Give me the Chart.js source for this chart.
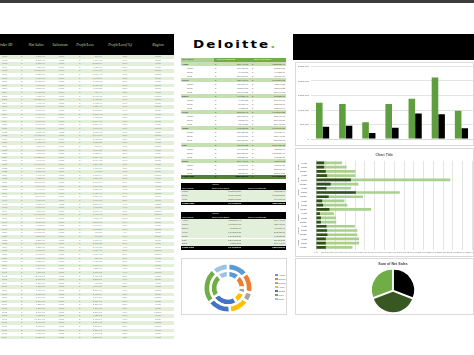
<!DOCTYPE html>
<html>
<head>
<meta charset="utf-8">
<script src="https://cdn.jsdelivr.net/npm/chart.js@4.4.1/dist/chart.umd.min.js"></script>
<style>
  body { margin: 0; width: 474px; height: 355px; background: #fff; position: relative; overflow: hidden; font-family: "Liberation Sans", Arial, sans-serif; }
  .box { position: absolute; box-sizing: border-box; }
  .row { position: absolute; overflow: hidden; white-space: nowrap; }
  .row span { position: absolute; top: 0; }
  canvas { display: block; }
  #donutLegend { position: absolute; left: 275px; top: 274px; font-size: 2.5px; line-height: 4px; color: #595959; }
  #donutLegend i { display: inline-block; width: 2.5px; height: 2px; margin-right: 1px; }
</style>
</head>
<body>
<div class="box" style="left:0;top:0;width:474px;height:3px;background:#3c3c3c"></div>
<div class="box" style="left:0;top:34px;width:174px;height:21px;background:#000"></div>
<div class="box" style="left:293px;top:34px;width:181px;height:26px;background:#000"></div>
<div class="box" id="logo" style="left:193px;top:39px;font:bold 10px 'DejaVu Sans';letter-spacing:1.5px;transform:scaleX(1.35);transform-origin:left top;color:#000">Deloitte<span style="color:#86bc25">.</span></div>

<div class="box" style="left:295px;top:62px;width:179px;height:84px;border:1px solid #d9d9d9"><canvas id="barChart" width="177" height="82"></canvas></div>
<div class="box" style="left:295px;top:148px;width:179px;height:109px;border:1px solid #d9d9d9"><canvas id="hbarChart" width="177" height="107"></canvas></div>
<div class="box" style="left:295px;top:258px;width:179px;height:57px;border:1px solid #d9d9d9"><canvas id="pieChart" width="177" height="55"></canvas></div>
<div class="box" style="left:181px;top:258px;width:106px;height:57px;border:1px solid #d9d9d9"><canvas id="donutChart" width="104" height="55"></canvas></div>
<div id="donutLegend"></div>

<script>
// salesmen and regions
const salesmen = ['Adam', 'Calvin', 'Daniel', 'Henry', 'Justin', 'Paul', 'Sindy'];
const regions = ['Middle', 'North', 'West'];

// column chart: sum of net sales / profit per salesman
const totalNetSales = [1250000, 1210000, 580000, 1210000, 1390000, 2120000, 970000];
const totalProfit = [420000, 460000, 210000, 390000, 880000, 850000, 370000];

// pivot by salesman and region (Adam..Sindy)
const netMiddle = [373210.50, 423540.25, 206870.10, 562980.75, 480120.40, 433650.90, 402870.30];
const netNorth = [440230.80, 422760.35, 203110.60, 319870.20, 856940.15, 1372850.45, 312950.70];
const netWest = [439780.10, 396990.55, 183240.90, 290450.30, 356810.65, 402730.20, 267340.85];
const profitMiddle = [100420.15, 116780.40, 49860.25, 136950.70, 129830.55, 149920.35, 99870.60];
const profitNorth = [99870.30, 113240.85, 50120.40, 73210.90, 406870.20, 357120.75, 83450.10];
const profitWest = [100150.60, 106890.25, 40230.75, 63470.35, 106920.80, 113350.45, 83120.90];

// pie: sum of net sales by region (Middle, North, West)
const pieNetSales = [2700000, 3350000, 2680000];

// orders table
const orderSales = [7200, 5770, 3830, 4350, 21270, 5850, 4860, 11370, 4900, 3270,
  6420, 4850, 21250, 4490, 3890, 3010, 6970, 5130, 3470, 5690,
  4880, 3840, 10730, 11020, 4630, 4290, 6060, 6360, 19220, 4640,
  10800, 7330, 5880, 4410, 4330, 13960, 3790, 4940, 10440, 3740,
  4890, 4770, 5100, 7290, 14950, 3900, 2970, 4920, 4370, 16880,
  5270, 5210, 11790, 6250, 4780, 3170, 4180, 5320, 6840, 9210,
  4050, 12400, 3660, 5830, 7120, 4470, 3950, 8640, 5560, 4230,
  6710, 3890, 4980, 10290, 5470, 3620, 4810, 6930, 5150];
const orderProfit = [899.34, 1179.43, 2130.00, 1137.16, 1609.70, 1069.45, 1862.11, 1963.02, 2425.83, 1072.35,
  986.44, 2495.75, 3488.00, 1772.97, 1330.46, 2093.31, 3100.93, 1672.35, 2196.90, 3507.96,
  1896.57, 3003.62, 2647.21, 3437.21, 3125.55, 788.00, 1807.35, 1635.99, 2179.97, 2499.82,
  1279.28, 1070.08, 941.50, 1781.84, 1201.72, 2178.71, 1377.95, 2180.80, 1457.40, 1317.06,
  1080.11, 2347.54, 4870.55, 2770.07, 1495.93, 4165.93, 2500.03, 1976.74, 1672.36, 995.30,
  877.25, 1786.40, 2878.33, 2490.35, 1656.48, 1789.21, 827.19, 1457.51, 1693.46, 4235.07,
  1800.02, 3457.85, 2205.56, 943.81, 1766.10, 3001.84, 2458.74, 1140.07, 2177.18, 2330.27,
  1295.35, 2566.36, 4021.83, 1963.19, 2854.41, 1108.56, 3250.64, 1742.92, 2203.10];
const orderRegion = ['North', 'North', 'West', 'West', 'Middle', 'Middle', 'North', 'West', 'North', 'North',
  'West', 'Middle', 'Middle', 'North', 'Middle', 'North', 'West', 'North', 'North', 'West',
  'Middle', 'North', 'Middle', 'North', 'West', 'Middle', 'West', 'West', 'Middle', 'North',
  'West', 'North', 'North', 'Middle', 'West', 'Middle', 'West', 'West', 'Middle', 'North',
  'North', 'Middle', 'West', 'Middle', 'Middle', 'North', 'North', 'West', 'Middle', 'West',
  'Middle', 'North', 'West', 'North', 'Middle', 'Middle', 'North', 'West', 'North', 'West',
  'Middle', 'Middle', 'North', 'West', 'West', 'Middle', 'North', 'Middle', 'North', 'West',
  'North', 'Middle', 'West', 'North', 'Middle', 'Middle', 'West', 'North', 'West'];
const firstOrderId = 1101;

const donutColors = ['#5b9bd5', '#ed7d31', '#a5a5a5', '#ffc000', '#4472c4', '#70ad47', '#9dc3e6'];

const money = v => v.toLocaleString('en-US', { minimumFractionDigits: 2, maximumFractionDigits: 2 });
const sum = a => a.reduce((s, v) => s + v, 0);

function mkRow(left, top, width, height, bg, fontSize, color) {
  const r = document.createElement('div');
  r.className = 'row';
  Object.assign(r.style, {
    left: left + 'px', top: top + 'px', width: width + 'px', height: height + 'px',
    background: bg, fontSize: fontSize + 'px', lineHeight: height + 'px', color: color
  });
  document.body.appendChild(r);
  return r;
}
function cell(row, text, x, align, extra) {
  const s = document.createElement('span');
  s.textContent = text;
  if (align === 'r') { s.style.left = (x - 80) + 'px'; s.style.width = '80px'; s.style.textAlign = 'right'; }
  else if (align === 'c') { s.style.left = (x - 40) + 'px'; s.style.width = '80px'; s.style.textAlign = 'center'; }
  else s.style.left = x + 'px';
  if (extra) Object.assign(s.style, extra);
  row.appendChild(s);
}

// left orders table
const head = mkRow(0, 34, 174, 21, 'transparent', 4, '#c9dca6');
head.style.fontFamily = "'Liberation Serif', serif";
head.style.fontStyle = 'italic';
[['Order ID', 5], ['Net Sales', 36], ['Salesman', 60], ['Profit/Loss', 85], ['Profit/Loss(%)', 120], ['Region', 158]]
  .forEach(([t, x]) => cell(head, t, x, 'c'));
const rowH = 3.6;
orderSales.forEach((v, i) => {
  const r = mkRow(0, 55 + i * rowH, 174, rowH, i % 2 ? '#ffffff' : '#e2efda', 2.4, '#8c8c8c');
  cell(r, String(firstOrderId + i), 2, 'l');
  cell(r, '$', 21, 'l');
  cell(r, money(v), 45, 'r');
  cell(r, 'Adam', 58, 'l');
  cell(r, '$', 79, 'l');
  cell(r, money(orderProfit[i]), 102, 'r');
  cell(r, Math.round(orderProfit[i] / v * 100) + '%', 125, 'c');
  cell(r, orderRegion[i], 158, 'c');
});

// pivot table
const pvL = 181, pvW = 105;
const ph = mkRow(pvL, 58, pvW, 3.5, '#a9d08e', 2.2, '#ffffff');
ph.style.background = 'linear-gradient(90deg,#a9d08e 0,#a9d08e 33px,#70ad47 33px)';
cell(ph, 'Row Labels', 1, 'l', { color: '#404040' });
cell(ph, 'Sum of Profit/Loss', 36, 'l');
cell(ph, 'Sum of Net Sales', 73, 'l');
const netBy = [netMiddle, netNorth, netWest];
const profBy = [profitMiddle, profitNorth, profitWest];
let py = 61.5;
salesmen.forEach((name, s) => {
  const g = mkRow(pvL, py, pvW, 4, '#c6e0b4', 2.2, '#404040');
  cell(g, name, 1, 'l', { fontWeight: 'bold' });
  cell(g, '$', 34, 'l'); cell(g, money(profitMiddle[s] + profitNorth[s] + profitWest[s]), 67, 'r');
  cell(g, '$', 71, 'l'); cell(g, money(netMiddle[s] + netNorth[s] + netWest[s]), 104, 'r');
  py += 4;
  regions.forEach((reg, k) => {
    const r = mkRow(pvL, py, pvW, 4.07, '#ffffff', 2.2, '#595959');
    cell(r, reg, 6, 'l');
    cell(r, '$', 34, 'l'); cell(r, money(profBy[k][s]), 67, 'r');
    cell(r, '$', 71, 'l'); cell(r, money(netBy[k][s]), 104, 'r');
    py += 4.07;
  });
});
const gt = mkRow(pvL, py, pvW, 3.6, '#548235', 2.2, '#000');
cell(gt, 'Grand Total', 1, 'l', { fontWeight: 'bold' });
cell(gt, '$', 34, 'l'); cell(gt, money(sum(profitMiddle) + sum(profitNorth) + sum(profitWest)), 67, 'r', { fontWeight: 'bold' });
cell(gt, '$', 71, 'l'); cell(gt, money(sum(netMiddle) + sum(netNorth) + sum(netWest)), 104, 'r', { fontWeight: 'bold' });

// black summary tables
function blackTable(top, labels, nets, profs) {
  const h1 = mkRow(pvL, top, pvW, 7, '#000', 2.2, '#fff');
  cell(h1, 'Values', 31, 'l', { top: '-1.8px' });
  cell(h1, 'Row Labels', 1, 'l', { top: '1.8px' });
  cell(h1, 'Sum of Net Sales', 31, 'l', { top: '1.8px' });
  cell(h1, 'Sum of Profit/Loss', 67, 'l', { top: '1.8px' });
  let y = top + 7;
  labels.forEach((l, i) => {
    const r = mkRow(pvL, y, pvW, 3.9, '#e2efda', 2.2, '#595959');
    cell(r, l, 1, 'l');
    cell(r, money(nets[i]), 60, 'r');
    cell(r, money(profs[i]), 104, 'r');
    y += 3.9;
  });
  const g = mkRow(pvL, y, pvW, 3.8, '#000', 2.2, '#fff');
  cell(g, 'Grand Total', 1, 'l', { fontWeight: 'bold' });
  cell(g, money(sum(nets)), 60, 'r', { fontWeight: 'bold' });
  cell(g, money(sum(profs)), 104, 'r', { fontWeight: 'bold' });
}
blackTable(183, regions, netBy.map(sum), profBy.map(sum));
blackTable(212, salesmen,
  salesmen.map((_, s) => netMiddle[s] + netNorth[s] + netWest[s]),
  salesmen.map((_, s) => profitMiddle[s] + profitNorth[s] + profitWest[s]));

const tickFont = { size: 2.5, family: 'Liberation Sans' };

// column chart
new Chart(document.getElementById('barChart'), {
  type: 'bar',
  data: {
    labels: salesmen,
    datasets: [
      { label: 'Sum of Net Sales', data: totalNetSales, backgroundColor: '#5f9e3e' },
      { label: 'Sum of Profit/Loss', data: totalProfit, backgroundColor: '#000000' }
    ]
  },
  options: {
    responsive: false, animation: false,
    layout: { padding: { top: 1, left: 1, right: 0, bottom: 0 } },
    datasets: { bar: { barPercentage: 1, categoryPercentage: 0.57 } },
    plugins: { legend: { display: false }, tooltip: { enabled: false } },
    scales: {
      x: {
        grid: { display: false }, border: { color: '#d9d9d9' },
        ticks: { font: tickFont, color: '#595959', padding: 1, maxRotation: 0 },
        afterFit: s => { s.height = 6; }
      },
      y: {
        min: 0, max: 2500000,
        grid: { color: '#e3e3e3', drawTicks: false }, border: { display: false },
        ticks: { stepSize: 500000, font: tickFont, color: '#595959', padding: 2 },
        afterFit: s => { s.width = 14; }
      }
    }
  }
});

// horizontal grouped chart
const hLabels = [], hNet = [], hProfit = [];
for (let s = salesmen.length - 1; s >= 0; s--) {
  hLabels.push('West', 'North', 'Middle');
  hNet.push(netWest[s], netNorth[s], netMiddle[s]);
  hProfit.push(profitWest[s], profitNorth[s], profitMiddle[s]);
}
const groupLabels = {
  id: 'groupLabels',
  afterDraw(chart) {
    const { ctx, scales: { y }, chartArea } = chart;
    ctx.save();
    ctx.fillStyle = '#595959';
    ctx.font = '2.5px "Liberation Sans"';
    ctx.textAlign = 'center';
    ctx.textBaseline = 'middle';
    for (let g = 0; g < salesmen.length; g++) {
      const name = salesmen[salesmen.length - 1 - g];
      const yc = y.getPixelForValue(g * 3 + 1);
      ctx.save();
      ctx.translate(chartArea.left - 18, yc);
      ctx.rotate(-Math.PI / 2);
      ctx.fillText(name, 0, 0);
      ctx.restore();
    }
    ctx.restore();
  }
};
new Chart(document.getElementById('hbarChart'), {
  type: 'bar',
  data: {
    labels: hLabels,
    datasets: [
      { label: 'Sum of Profit/Loss', data: hProfit, backgroundColor: '#2f4f1f', grouped: false },
      { label: 'Sum of Net Sales', data: hNet, backgroundColor: '#a9d08e', grouped: false }
    ]
  },
  plugins: [groupLabels],
  options: {
    indexAxis: 'y', responsive: false, animation: false,
    layout: { padding: { top: 0, left: 0, right: 0.5, bottom: 0 } },
    datasets: { bar: { barPercentage: 0.63, categoryPercentage: 1 } },
    plugins: {
      legend: { display: false }, tooltip: { enabled: false },
      title: { display: true, text: 'Chart Title', color: '#595959', font: { size: 3.6, family: 'Liberation Sans' }, padding: { top: 4, bottom: 3.5 } }
    },
    scales: {
      x: {
        min: 0, max: 1600000,
        grid: { color: '#e3e3e3', drawTicks: false }, border: { display: false },
        ticks: { stepSize: 100000, autoSkip: false, maxRotation: 0, font: { size: 2, family: 'Liberation Sans' }, color: '#7f7f7f', padding: 2, callback: v => money(v) },
        afterFit: s => { s.height = 6.5; s.paddingLeft = 0; s.paddingRight = 0; }
      },
      y: {
        grid: { display: false }, border: { color: '#d9d9d9' },
        ticks: { font: tickFont, color: '#595959', padding: 1, autoSkip: false },
        afterFit: s => { s.width = 20; }
      }
    }
  }
});

// pie
new Chart(document.getElementById('pieChart'), {
  type: 'pie',
  data: {
    labels: regions,
    datasets: [{ data: pieNetSales, backgroundColor: ['#000000', '#385723', '#70ad47'], borderWidth: 0, offset: 4.5 }]
  },
  options: {
    responsive: false, animation: false,
    layout: { padding: { left: 17, right: 0, top: 0, bottom: 1 } },
    plugins: {
      legend: { display: false }, tooltip: { enabled: false },
      title: { display: true, text: 'Sum of Net Sales', color: '#404040', font: { size: 3.6, weight: 'bold', family: 'Liberation Sans' }, padding: { top: 3, bottom: 2 } }
    }
  }
});

// doughnut
new Chart(document.getElementById('donutChart'), {
  type: 'doughnut',
  data: {
    labels: salesmen,
    datasets: [
      { data: totalNetSales, backgroundColor: donutColors, borderColor: '#fff', borderWidth: 2.5 },
      { data: totalProfit, backgroundColor: donutColors, borderColor: '#fff', borderWidth: 2.5 }
    ]
  },
  options: {
    responsive: false, animation: false, cutout: '42%',
    layout: { padding: { left: 20, right: 32, top: 3, bottom: 0 } },
    plugins: { tooltip: { enabled: false }, legend: { display: false } }
  }
});
const legendBox = document.getElementById('donutLegend');
salesmen.forEach((name, i) => {
  const d = document.createElement('div');
  d.innerHTML = '<i style="background:' + donutColors[i] + '"></i>' + name;
  legendBox.appendChild(d);
});
</script>
</body>
</html>
